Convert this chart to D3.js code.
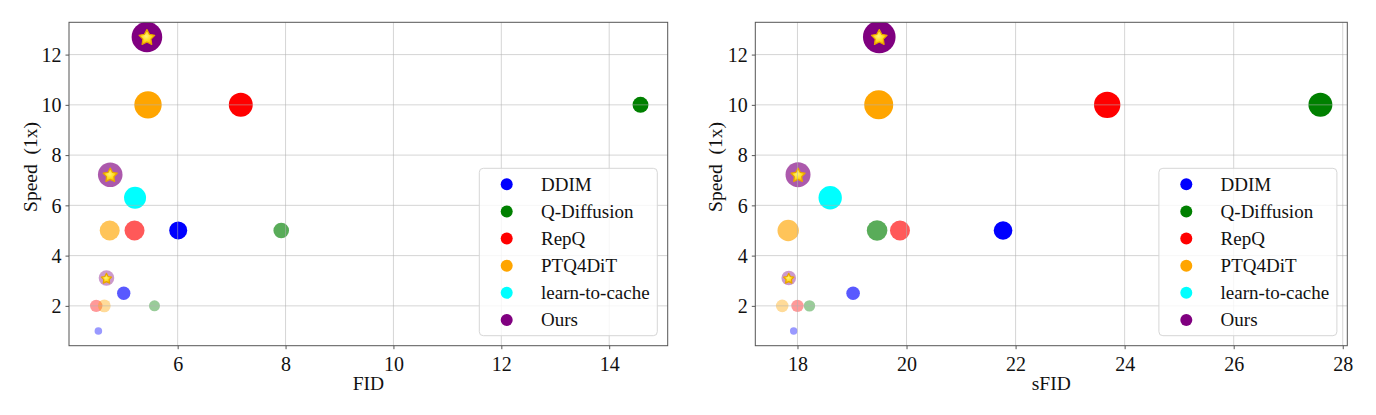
<!DOCTYPE html>
<html><head><meta charset="utf-8">
<script src="https://cdn.jsdelivr.net/npm/d3@7"></script>
<style>
body{margin:0;background:#fff;}
svg{display:block;font-family:"Liberation Serif","Times New Roman",serif;}
</style>
</head><body>
<svg id="c" width="1376" height="415"></svg>
<script>
// ---------- data ----------
const seriesNames = ["DDIM", "Q-Diffusion", "RepQ", "PTQ4DiT", "learn-to-cache", "Ours"];
const ddimSpeed = [5, 2.5, 1];
const ddimFID   = [6.01, 5.00, 4.53];
const ddimSFID  = [21.77, 19.02, 17.93];
const qdiffSpeed = [10, 5, 2];
const qdiffFID   = [14.58, 7.92, 5.57];
const qdiffSFID  = [27.59, 19.46, 18.22];
const repqSpeed = [10, 5, 2];
const repqFID   = [7.17, 5.20, 4.49];
const repqSFID  = [23.68, 19.88, 18.00];
const ptqSpeed = [10, 5, 2];
const ptqFID   = [5.45, 4.74, 4.64];
const ptqSFID  = [19.49, 17.83, 17.72];
const l2cSpeed = [6.3];
const l2cFID   = [5.21];
const l2cSFID  = [18.60];
const oursSpeed = [12.7, 7.22, 3.11];
const oursFID   = [5.43, 4.75, 4.68];
const oursSFID  = [19.50, 18.01, 17.84];
const xTicksFID  = [6, 8, 10, 12, 14];
const xTicksSFID = [18, 20, 22, 24, 26, 28];
const yTicks = [2, 4, 6, 8, 10, 12];

// ---------- styles ----------
const colors = ["#0000ff", "#008000", "#ff0000", "#ffa500", "#00ffff", "#800080"];
const rankAlpha = [1, 0.65, 0.4];
const radiiFID  = [[9, 6.7, 3.8], [8, 7.8, 5.5], [12, 10, 6.2], [13.7, 10, 6.4], [11], [15.3, 12.3, 7.8]];
const radiiSFID = [[9.3, 6.8, 3.7], [12, 10.3, 5.7], [13.2, 10, 6.2], [14.5, 10.7, 6.3], [11.7], [16.3, 12.5, 7.3]];
const starR = [8.2, 7.4, 5.4];

const series = seriesNames.map((name, i) => ({
  name,
  speed: [ddimSpeed, qdiffSpeed, repqSpeed, ptqSpeed, l2cSpeed, oursSpeed][i],
  fid:   [ddimFID, qdiffFID, repqFID, ptqFID, l2cFID, oursFID][i],
  sfid:  [ddimSFID, qdiffSFID, repqSFID, ptqSFID, l2cSFID, oursSFID][i]
}));

// fat 5-point star symbol (size = outer radius squared)
const fatStar = {
  draw(ctx, size) {
    const R = Math.sqrt(size), r = R * 0.52;
    for (let i = 0; i < 10; i++) {
      const a = -Math.PI / 2 + i * Math.PI / 5;
      const rr = i % 2 ? r : R;
      const px = Math.cos(a) * rr, py = Math.sin(a) * rr;
      if (i === 0) ctx.moveTo(px, py); else ctx.lineTo(px, py);
    }
    ctx.closePath();
  }
};

const svg = d3.select("#c");
const defs = svg.append("defs");
const grad = defs.append("radialGradient").attr("id", "starGrad").attr("cx", "45%").attr("cy", "45%").attr("r", "60%");
grad.append("stop").attr("offset", "0%").attr("stop-color", "#fff27a");
grad.append("stop").attr("offset", "55%").attr("stop-color", "#ffdc1a");
grad.append("stop").attr("offset", "100%").attr("stop-color", "#f2a900");

const plotTop = 22.3, plotBottom = 345.7;
const panels = [
  { left: 69, right: 667.7, key: "fid", label: "FID", ticks: xTicksFID, radii: radiiFID, ylabX: 37 },
  { left: 755.3, right: 1347.3, key: "sfid", label: "sFID", ticks: xTicksSFID, radii: radiiSFID, ylabX: 722 }
];

function padded(vals) {
  const [a, b] = d3.extent(vals);
  const m = (b - a) * 0.05;
  return [a - m, b + m];
}
const allSpeed = series.flatMap(s => s.speed);
const y = d3.scaleLinear().domain(padded(allSpeed)).range([plotBottom, plotTop]);

panels.forEach((p, pi) => {
  const allX = series.flatMap(s => s[p.key]);
  const x = d3.scaleLinear().domain(padded(allX)).range([p.left, p.right]);
  const g = svg.append("g");
  const W = p.right - p.left, H = plotBottom - plotTop;

  defs.append("clipPath").attr("id", "clip" + pi)
    .append("rect").attr("x", p.left).attr("y", plotTop).attr("width", W).attr("height", H);

  // points
  const pts = g.append("g").attr("clip-path", `url(#clip${pi})`);
  series.forEach((s, si) => {
    s.speed.forEach((sp, k) => {
      pts.append("circle")
        .attr("cx", x(s[p.key][k])).attr("cy", y(sp))
        .attr("r", p.radii[si][k])
        .attr("fill", colors[si])
        .attr("fill-opacity", s.speed.length === 1 ? 1 : rankAlpha[k]);
      if (s.name === "Ours") {
        pts.append("path")
          .attr("d", d3.symbol().type(fatStar).size(starR[k] * starR[k])())
          .attr("transform", `translate(${x(s[p.key][k])},${y(sp) + 0.8})`)
          .attr("fill", "url(#starGrad)")
          .attr("stroke", "#e9a400").attr("stroke-width", 1.2)
          .attr("stroke-linejoin", "round");
      }
    });
  });

  // grid (above points)
  const grid = g.append("g").attr("stroke", "#b0b0b0").attr("stroke-opacity", 0.6).attr("stroke-width", 0.9);
  p.ticks.forEach(t => grid.append("line").attr("x1", x(t)).attr("x2", x(t)).attr("y1", plotTop).attr("y2", plotBottom));
  yTicks.forEach(t => grid.append("line").attr("x1", p.left).attr("x2", p.right).attr("y1", y(t)).attr("y2", y(t)));

  // axes
  const xa = g.append("g").attr("transform", `translate(0,${plotBottom})`)
    .call(d3.axisBottom(x).tickValues(p.ticks).tickFormat(d3.format("d")).tickSize(3.5).tickPadding(8));
  const ya = g.append("g").attr("transform", `translate(${p.left},0)`)
    .call(d3.axisLeft(y).tickValues(yTicks).tickFormat(d3.format("d")).tickSize(3.5).tickPadding(4));
  [xa, ya].forEach(a => {
    a.select(".domain").remove();
    a.selectAll("line").attr("stroke", "#444").attr("stroke-width", 0.9);
    a.selectAll("text").attr("font-size", 20).attr("fill", "#111")
      .attr("font-family", '"Liberation Serif","Times New Roman",serif');
  });
  ya.selectAll("text").attr("dy", "0.34em");

  // spines
  g.append("rect").attr("x", p.left).attr("y", plotTop).attr("width", W).attr("height", H)
    .attr("fill", "none").attr("stroke", "#555").attr("stroke-width", 1);

  // labels
  g.append("text").attr("x", (p.left + p.right) / 2).attr("y", 390)
    .attr("text-anchor", "middle").attr("font-size", 19.5).attr("fill", "#111").text(p.label);
  g.append("text").attr("transform", `translate(${p.ylabX},167) rotate(-90)`)
    .attr("text-anchor", "middle").attr("font-size", 19.5).attr("fill", "#111")
    .style("white-space", "pre").text("Speed  (1x)");

  // legend
  const lw = 178, lh = 167.4;
  const lx = p.right - 10.4 - lw, ly = plotBottom - 10 - lh;
  const lg = g.append("g");
  lg.append("rect").attr("x", lx).attr("y", ly).attr("width", lw).attr("height", lh)
    .attr("rx", 4).attr("fill", "#fff").attr("fill-opacity", 0.8)
    .attr("stroke", "#d6d6d6").attr("stroke-width", 1);
  seriesNames.forEach((n, i) => {
    const cy = ly + 16 + i * 27.14;
    lg.append("circle").attr("cx", lx + 27.4).attr("cy", cy).attr("r", 6).attr("fill", colors[i]);
    lg.append("text").attr("x", lx + 61.7).attr("y", cy).attr("dy", "0.34em")
      .attr("font-size", 19).attr("fill", "#111").text(n);
  });
});
</script>
</body></html>
